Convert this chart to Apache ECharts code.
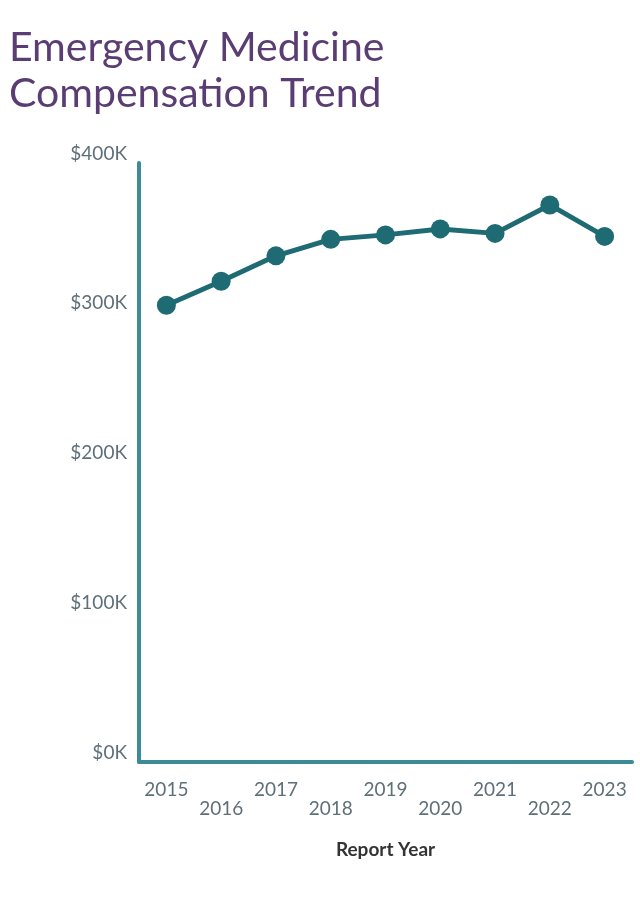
<!DOCTYPE html><html><head><meta charset="utf-8">
<script src="https://cdn.jsdelivr.net/npm/echarts@6/dist/echarts.min.js"></script>
<style>html,body{margin:0;padding:0;background:#fff}#c{width:640px;height:923px}</style></head><body><div id="c"></div>
<script>
const years=['2015','2016','2017','2018','2019','2020','2021','2022','2023'];
const comp=[305,321,338,349,352,356,353,372,351];
const yTicks=[0,100,200,300,400];
const chart=echarts.init(document.getElementById('c'));
chart.setOption({
 textStyle:{fontFamily:'Lato'},
 title:{text:'Emergency Medicine\nCompensation Trend',left:4,top:20,textStyle:{fontFamily:'Lato',fontSize:41,fontWeight:'normal',color:'#5a3d73',lineHeight:46}},
 grid:{left:139,right:8,top:163,bottom:161},
 xAxis:{type:'category',data:years,boundaryGap:true,
  axisLine:{lineStyle:{color:'#3d8b94',width:4}},axisTick:{show:false},
  axisLabel:{color:'#5f6f78',fontSize:19,margin:18,interval:0,lineHeight:19,
   formatter:(v,i)=>i%2? '\n'+v : v},
  name:'Report Year',nameLocation:'middle',nameGap:78,
  nameTextStyle:{fontSize:19,fontWeight:'bold',color:'#333'}},
 yAxis:{type:'value',min:0,max:400,interval:100,
  axisLine:{show:true,lineStyle:{color:'#3d8b94',width:4}},axisTick:{show:false},splitLine:{show:false},
  axisLabel:{color:'#5f6f78',fontSize:19,margin:12,verticalAlign:'bottom',formatter:v=>'$'+v+'K'}},
 series:[{type:'line',data:comp,symbol:'circle',symbolSize:19,
  lineStyle:{color:'#1e6b74',width:5},itemStyle:{color:'#1e6b74'}}]
});
</script></body></html>
